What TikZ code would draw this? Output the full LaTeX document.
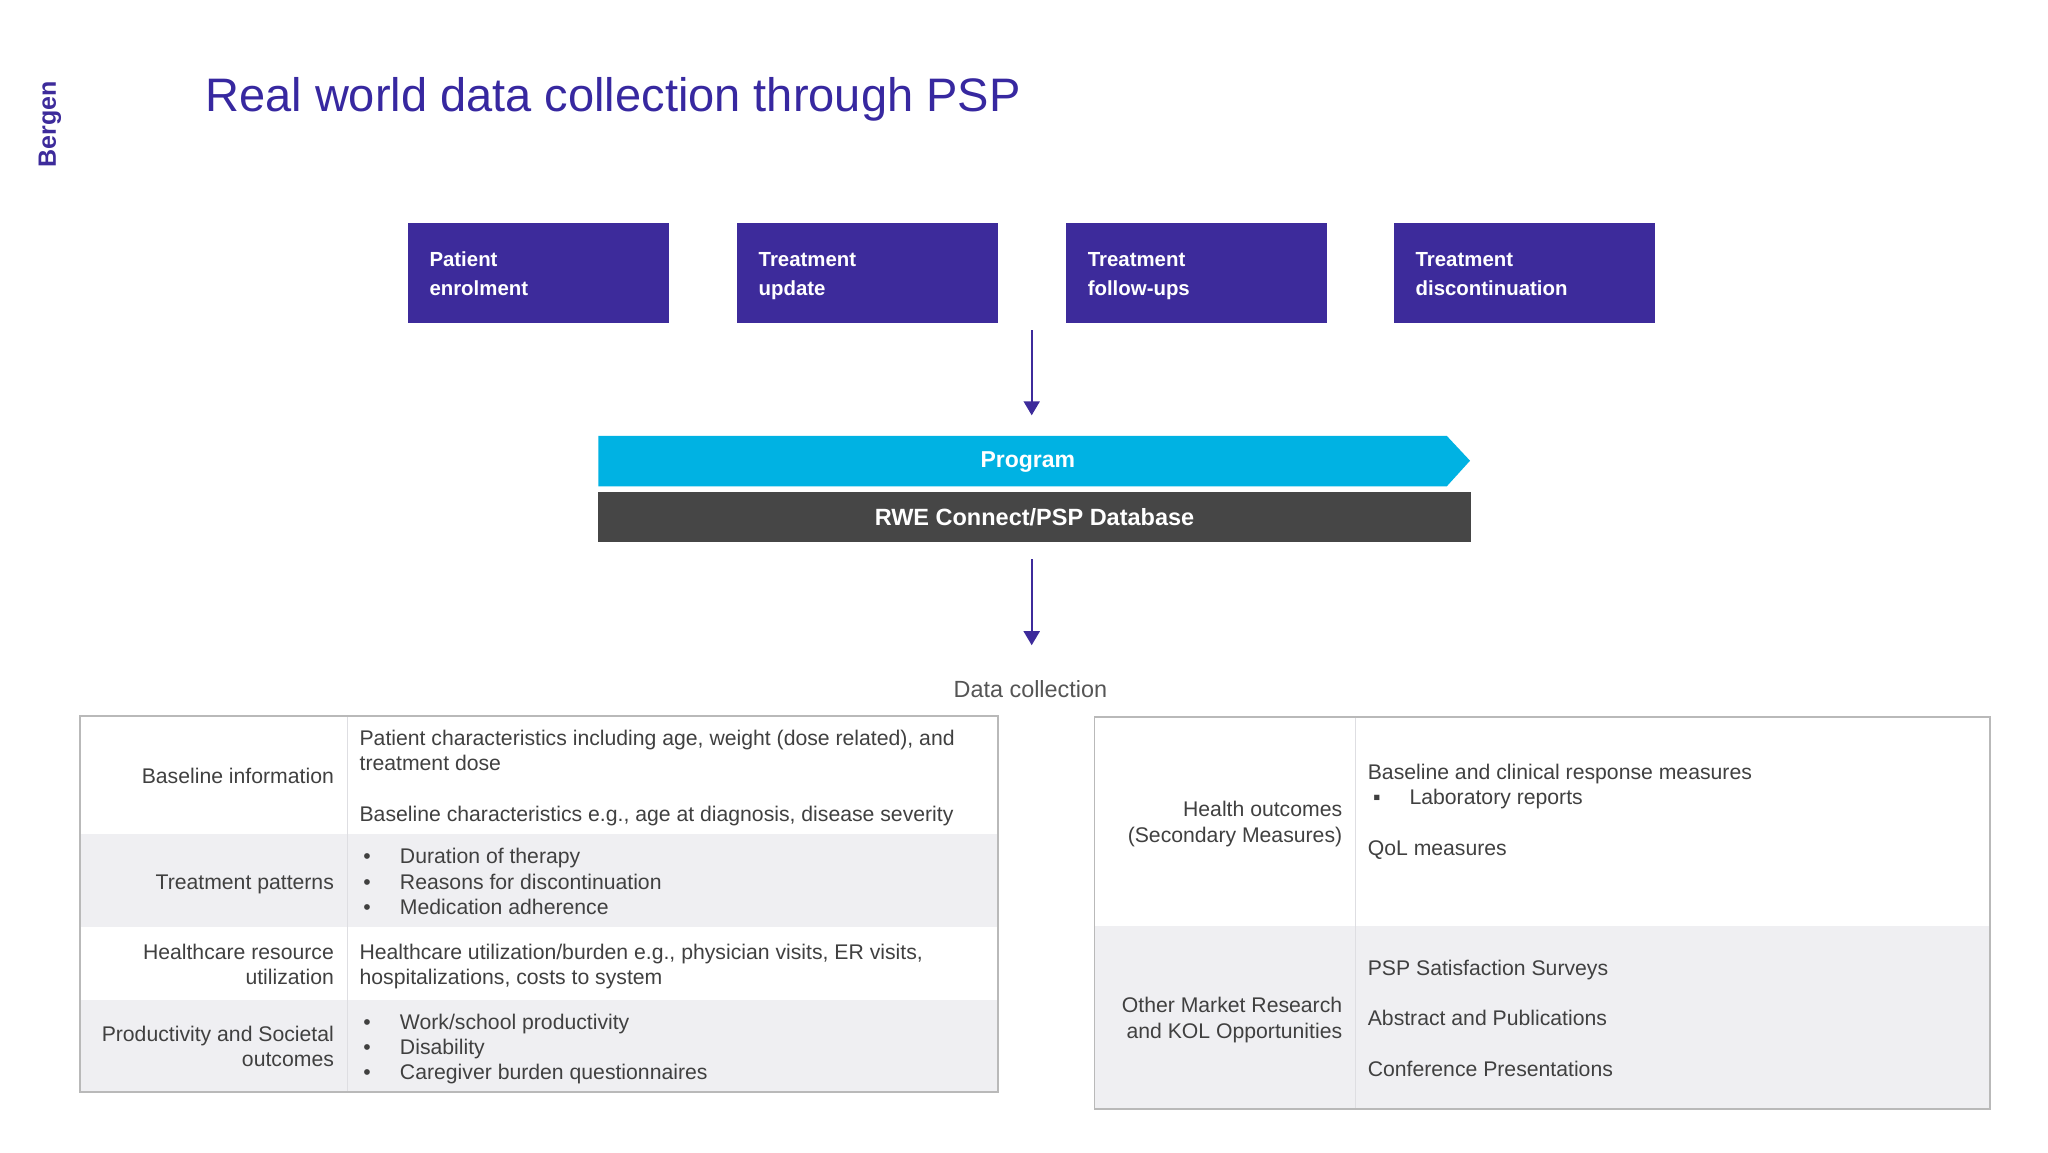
\documentclass[tikz,border=0pt]{standalone}
\usepackage{fontspec}
\setmainfont{Liberation Sans}
\usetikzlibrary{arrows.meta}
\definecolor{pspPurple}{RGB}{61,43,155}
\definecolor{titlePurple}{RGB}{55,40,160}
\definecolor{bandCyan}{RGB}{0,178,227}
\definecolor{barDark}{RGB}{70,70,70}
\definecolor{tableText}{RGB}{64,64,64}
\definecolor{captionGray}{RGB}{85,85,85}
\definecolor{rowGray}{RGB}{239,239,242}
\definecolor{borderGray}{RGB}{185,185,185}
\definecolor{dividerGray}{RGB}{222,222,226}
\newcommand\phaselines[2]{\rule{0pt}{12.75pt}#1\\\strut #2}
\begin{document}
\begin{tikzpicture}[x=0.5pt,y=-0.5pt,
  phase/.style={fill=pspPurple, text=white, font=\bfseries\fontsize{10.2}{14.5}\selectfont,
    text width=108.5pt, align=left, inner xsep=11pt, inner ysep=0pt, minimum height=49.7pt},
  band/.style={minimum width=423.8pt, minimum height=24.9pt, inner sep=0pt},
  bar/.style={fill=barDark, minimum width=436.5pt, minimum height=24.9pt, inner sep=0pt,
    text=white, font=\bfseries\fontsize{11.75}{13}\selectfont},
  flow/.style={draw=pspPurple, line width=1pt, -{Triangle[width=8pt,length=7pt]}},
  lbl/.style={anchor=north east, align=right, inner sep=0pt, text=tableText,
    font=\fontsize{10.6}{12.6}\selectfont},
  cnt/.style={anchor=north west, align=left, inner sep=0pt, text=tableText,
    font=\fontsize{10.6}{12.6}\selectfont},
  tableframe/.style={draw=borderGray, line width=0.9pt},
  divider/.style={draw=dividerGray, line width=0.6pt}
]
\useasboundingbox (0,0) rectangle (2048,1152);
\fill[white] (0,0) rectangle (2048,1152);

% side label and title
\node[rotate=90, text=pspPurple, font=\bfseries\fontsize{12.5}{14}\selectfont, inner sep=0pt] (brand) at (50,124) {Bergen};
\node[anchor=base west, text=titlePurple, font=\fontsize{23.5}{28}\selectfont, inner sep=0pt] (title) at (205,111) {Real world data collection through PSP};

% phase boxes
\node[phase] (p1) at (538,273) {\phaselines{Patient}{enrolment}};
\node[phase] (p2) at (867.2,273) {\phaselines{Treatment}{update}};
\node[phase] (p3) at (1196.3,273) {\phaselines{Treatment}{follow-ups}};
\node[phase] (p4) at (1524.1,273) {\phaselines{Treatment}{discontinuation}};

% program band and database bar
\node[band] (prog) at (1022.5,461.1) {};
\fill[bandCyan] (prog.north west) -- (prog.north east) -- ++(23.3,24.9) -- (prog.south east) -- (prog.south west) -- cycle;
\node[text=white, font=\bfseries\fontsize{11.5}{13}\selectfont, inner sep=0pt] (progtext) at (1027.8,462) {Program};
\node[bar] (db) at (1034.5,517.2) {RWE Connect/PSP Database};

% arrows
\coordinate (a1s) at (1031.7,330.4);
\coordinate (a1e) at (1031.7,415.3);
\coordinate (a2s) at (1031.7,559);
\coordinate (a2e) at (1031.7,645.2);
\draw[flow] (a1s) -- (a1e);
\draw[flow] (a2s) -- (a2e);

\node[text=captionGray, font=\fontsize{11.7}{13}\selectfont, inner sep=0pt] (dc) at (1030.4,689.6) {Data collection};

% ---------- left table ----------
\fill[rowGray] (79.7,833.6) rectangle (997.8,927.3);
\fill[rowGray] (79.7,1000.4) rectangle (997.8,1091.8);
\draw[divider] (347.4,715.7) -- (347.4,1091.8);
\draw[tableframe] (79.7,715.7) rectangle (997.8,1091.8);

\node[lbl] (l1) at (334.3,765.2) {\strut Baseline information};
\node[cnt] (c1) at (359.2,727.6) {\strut Patient characteristics including age, weight (dose related), and\\\strut treatment dose\\\strut\\\strut Baseline characteristics e.g., age at diagnosis, disease severity};

\node[lbl] (l2) at (334.3,871.6) {\strut Treatment patterns};
\node[cnt] (c2) at (363,845.9) {\strut\makebox[18.3pt][l]{•}Duration of therapy\\\strut\makebox[18.3pt][l]{•}Reasons for discontinuation\\\strut\makebox[18.3pt][l]{•}Medication adherence};

\node[lbl] (l3) at (334.3,941.4) {\strut Healthcare resource\\\strut utilization};
\node[cnt] (c3) at (359.2,941.4) {\strut Healthcare utilization/burden e.g., physician visits, ER visits,\\\strut hospitalizations, costs to system};

\node[lbl] (l4) at (334.3,1023.6) {\strut Productivity and Societal\\\strut outcomes};
\node[cnt] (c4) at (363,1011) {\strut\makebox[18.3pt][l]{•}Work/school productivity\\\strut\makebox[18.3pt][l]{•}Disability\\\strut\makebox[18.3pt][l]{•}Caregiver burden questionnaires};

% ---------- right table ----------
\fill[rowGray] (1094.4,926) rectangle (1990.3,1108.8);
\draw[divider] (1355.6,717) -- (1355.6,1108.8);
\draw[tableframe] (1094.4,717) rectangle (1990.3,1108.8);

\node[lbl] (r1) at (1342.6,798.9) {\strut Health outcomes\\\strut (Secondary Measures)};
\node[cnt] (rc1) at (1367.4,761.4) {\strut Baseline and clinical response measures\\\strut\hspace*{2.6pt}\makebox[18.3pt][l]{▪}Laboratory reports\\\strut\\\strut QoL measures};

\node[lbl] (r2) at (1342.6,994.8) {\strut Other Market Research\\\strut and KOL Opportunities};
\node[cnt] (rc2) at (1367.4,957.3) {\strut PSP Satisfaction Surveys\\\strut\\\strut Abstract and Publications\\\strut\\\strut Conference Presentations};
\end{tikzpicture}
\end{document}
